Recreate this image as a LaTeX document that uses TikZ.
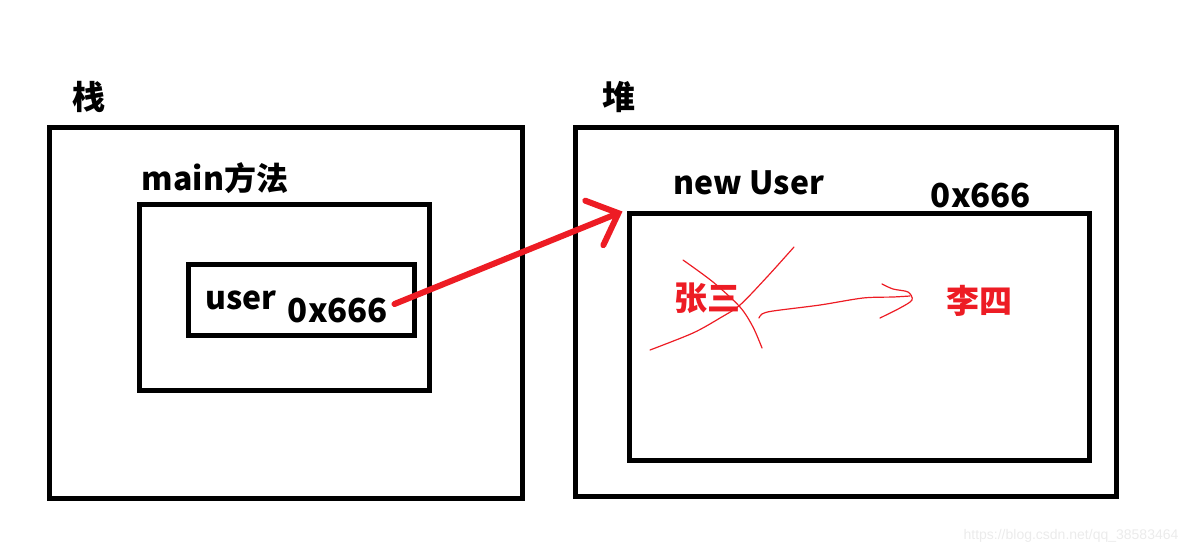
\documentclass[tikz,border=0pt]{standalone}
\usepackage{fontspec}
\setmainfont{Noto Sans CJK SC}
\newfontfamily\wmfont{Liberation Sans}
\usetikzlibrary{arrows.meta}
\definecolor{penred}{RGB}{237,28,36}

\tikzset{
  box/.style={draw, line width=2.5pt, inner sep=0pt},
  lbl/.style={inner sep=0pt, font=\bfseries\fontsize{#1}{#1}\selectfont},
  lbl/.default=16,
  pen/.style={penred, line width=0.6pt, line cap=round, line join=round},
}

\begin{document}
\begin{tikzpicture}[x=0.5pt, y=-0.5pt]
    \useasboundingbox (0,0) rectangle (1196,553);
    % stack side
    \node[box, minimum width=236.5pt, minimum height=185.5pt] (stack) at (285.5,312.5) {};
    \node[box, minimum width=145pt, minimum height=93pt] (main) at (284,297) {};
    \node[box, minimum width=113pt, minimum height=35.5pt] (user) at (301,299.5) {};
    \node[lbl=16.5] (stacklbl) at (89,97) {栈};
    \node[lbl] (mainlbl) at (215,178) {main方法};
    \node[lbl] (varlbl) at (241,300) {user};
    \node[lbl=16.5] (addr) at (338,311) {0x666};
    % heap side
    \node[box, minimum width=270.5pt, minimum height=184.5pt] (heap) at (845.5,311.5) {};
    \node[box, minimum width=230pt, minimum height=123.5pt] (obj) at (859,336.5) {};
    \node[lbl=16.5] (heaplbl) at (619,97) {堆};
    \node[lbl] (newlbl) at (749,183) {new User};
    \node[lbl=16.5] (objaddr) at (981,196) {0x666};
    \node[lbl=16.5, text=penred] (oldname) at (707,298) {张三};
    \node[lbl=16.5, text=penred] (newname) at (979,301) {李四};
    % reference
    \draw[penred, line width=3pt, line cap=round,
          -{Straight Barb[length=13pt, width=24pt, line cap=round]}]
      (addr.east) ++(6,-7) -- ([shift={(-4,1)}]obj.north west);
    % crossed out, then changed
    \draw[pen] plot[smooth] coordinates {(683,260) (713,282) (740,307) (753,327) (762,348)};
    \draw[pen] plot[smooth] coordinates {(794,247) (767,277) (740,305) (720,318) (693,333) (650,350)};
    \draw[pen] plot[smooth] coordinates {(759,318) (762,314) (773,311) (820,305) (863,298) (893,297) (910,296)};
    \draw[pen] plot[smooth] coordinates {(882,284) (893,289) (908,292) (912,300) (900,308) (880,318)};
    \node[font=\wmfont\fontsize{7}{8}\selectfont, text=black!8, inner sep=0pt] (mark) at (1071,536) {https://blog.csdn.net/qq\_38583464};
\end{tikzpicture}
\end{document}
